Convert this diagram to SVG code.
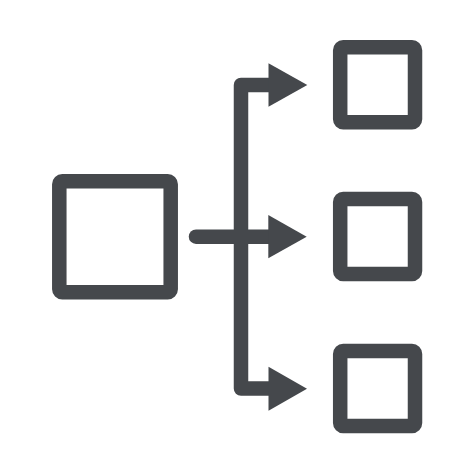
<svg xmlns="http://www.w3.org/2000/svg" width="474" height="474" viewBox="0 0 474 474">
<defs>
<style>
.box{fill:none;stroke:#45484c;stroke-width:14.5;stroke-linejoin:round}
.ln{fill:none;stroke:#45484c;stroke-width:14.5;stroke-linejoin:round}
.ah{fill:#45484c}
</style>
<marker id="arr" viewBox="0 0 40 44" refX="2" refY="22" markerWidth="40" markerHeight="44" markerUnits="userSpaceOnUse" orient="auto">
<path class="ah" d="M0 0 L38 22 L0 44 Z"/>
</marker>
</defs>
<g id="source"><rect class="box" x="59.3" y="181.3" width="111.4" height="111" rx="3"/></g>
<g id="target-top"><rect class="box" x="340.2" y="47.2" width="74.8" height="75" rx="3"/></g>
<g id="target-middle"><rect class="box" x="340.2" y="199" width="74.8" height="75" rx="3"/></g>
<g id="target-bottom"><rect class="box" x="340.2" y="351" width="74.8" height="75" rx="3"/></g>
<g id="connectors">
<path class="ln" d="M270 85 H241 V388.5 H270"/>
<path class="ln" d="M196 236.7 H270" stroke-linecap="round"/>
<path class="ah" d="M268.5 63.3 L307.3 85 L268.5 106.7 Z"/>
<path class="ah" d="M268.3 215 L306.7 236.7 L268.3 258.3 Z"/>
<path class="ah" d="M268.5 366.7 L307 388.7 L268.5 410.7 Z"/>
</g>
</svg>
